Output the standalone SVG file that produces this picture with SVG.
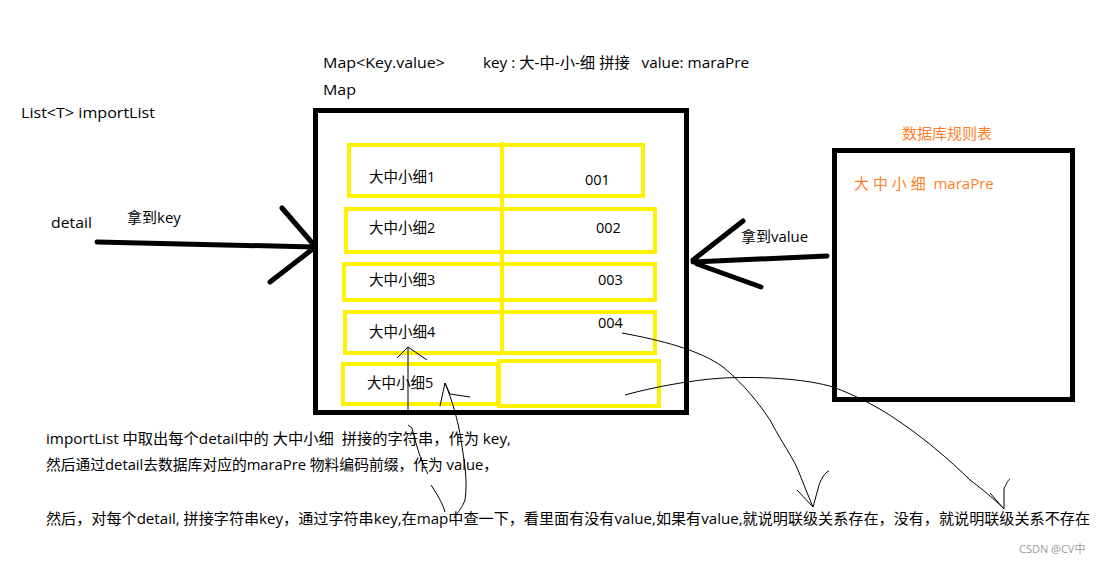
<svg xmlns="http://www.w3.org/2000/svg" width="1096" height="562" viewBox="0 0 1096 562">
<style>
text{font-family:"Open Sans","Noto Sans CJK SC",sans-serif;font-size:15px;fill:#000}
.sm{font-size:14.5px}
.or{fill:#FF7F27}
.yb{fill:none;stroke:#FFF200;stroke-width:4}
.bb{fill:none;stroke:#000;stroke-width:5}
.thick{fill:none;stroke:#000;stroke-width:5;stroke-linecap:round}
.thin{fill:none;stroke:#000;stroke-width:1}
</style>
<rect width="1096" height="562" fill="#fff"/>
<g id="labels">
<text x="323" y="68" textLength="122" lengthAdjust="spacingAndGlyphs">Map&lt;Key.value&gt;</text>
<text x="483" y="68" xml:space="preserve" textLength="266" lengthAdjust="spacingAndGlyphs">key : 大-中-小-细 拼接   value: maraPre</text>
<text x="323" y="95" textLength="33" lengthAdjust="spacingAndGlyphs">Map</text>
<text x="21" y="118" textLength="134" lengthAdjust="spacingAndGlyphs">List&lt;T&gt; importList</text>
<text x="51" y="228" textLength="41" lengthAdjust="spacingAndGlyphs">detail</text>
<text x="127" y="223">拿到key</text>
<text x="741" y="242">拿到value</text>
</g>
<g id="map">
<rect class="bb" x="315.5" y="110.5" width="371" height="302"/>
</g>
<g id="row1">
<rect class="yb" x="349" y="145" width="153" height="51"/>
<rect class="yb" x="502" y="145" width="141" height="51"/>
<text class="sm" x="369" y="182">大中小细1</text>
<text class="sm" x="585" y="185">001</text>
</g>
<g id="row2">
<rect class="yb" x="346" y="209" width="156" height="43"/>
<rect class="yb" x="502" y="209" width="153" height="43"/>
<text class="sm" x="369" y="233">大中小细2</text>
<text class="sm" x="596" y="233">002</text>
</g>
<g id="row3">
<rect class="yb" x="344" y="264" width="158" height="36"/>
<rect class="yb" x="502" y="264" width="153" height="36"/>
<text class="sm" x="369" y="285">大中小细3</text>
<text class="sm" x="598" y="285">003</text>
</g>
<g id="row4">
<rect class="yb" x="345" y="312" width="157" height="41"/>
<rect class="yb" x="502" y="312" width="153" height="41"/>
<text class="sm" x="369" y="337">大中小细4</text>
<text class="sm" x="598" y="328">004</text>
</g>
<g id="row5">
<rect class="yb" x="343" y="364" width="155" height="40"/>
<rect class="yb" x="499" y="361" width="160" height="45"/>
<text class="sm" x="367" y="388">大中小细5</text>
</g>
<line class="yb" x1="502" y1="142" x2="502" y2="355"/>
<g id="db">
<rect class="bb" x="834.5" y="150.5" width="238" height="249"/>
<text class="or" x="902" y="139">数据库规则表</text>
<text class="or" x="854" y="189" xml:space="preserve">大 中 小 细  maraPre</text>
</g>
<g id="connectors">
<path class="thick" d="M97 242 L314 247 M282 208 L314 245 M270 282 L314 248"/>
<path class="thick" d="M827 256 L693 262 M743 221 L693 260 M761 287 L697 264"/>
<path class="thin" d="M622 333 C660 340 700 350 723 367 C745 385 760 405 770 420 C780 440 795 460 800 475 C806 490 810 500 813 507 M797 490 L813 507 L818 489 C820 480 825 472 829 471"/>
<path class="thin" d="M625 395 C650 388 690 380 723 378 C770 376 810 380 833 387 C855 395 880 408 897 420 C920 435 950 460 970 480 C990 495 1000 505 1004 509 M990 493 L1004 509 M1004 509 L1004 489 C1006 484 1008 480 1010 479"/>
<path class="thin" d="M408 347 L408 415 M408 425 L412 428 C415 440 420 460 428 474 M431 485 L438 496 C440 500 443 505 445 512 M397 358 L408 347 L427 360"/>
<path class="thin" d="M445 383 C452 400 458 420 461 440 C464 460 468 480 465 500 C462 508 458 512 454 518 M440 406 L445 383 L450 394 L470 397"/>
</g>
<g id="notes">
<text x="46" y="444" xml:space="preserve" textLength="465" lengthAdjust="spacingAndGlyphs">importList 中取出每个detail中的 大中小细  拼接的字符串，作为 key,</text>
<text x="46" y="470" textLength="452" lengthAdjust="spacingAndGlyphs">然后通过detail去数据库对应的maraPre 物料编码前缀，作为 value，</text>
<text x="46" y="524" textLength="1044" lengthAdjust="spacingAndGlyphs">然后，对每个detail, 拼接字符串key，通过字符串key,在map中查一下，看里面有没有value,如果有value,就说明联级关系存在，没有，就说明联级关系不存在</text>
<text x="1019" y="553" style="font-size:11px;fill:#9a9a9a">CSDN @CV中</text>
</g>
</svg>
